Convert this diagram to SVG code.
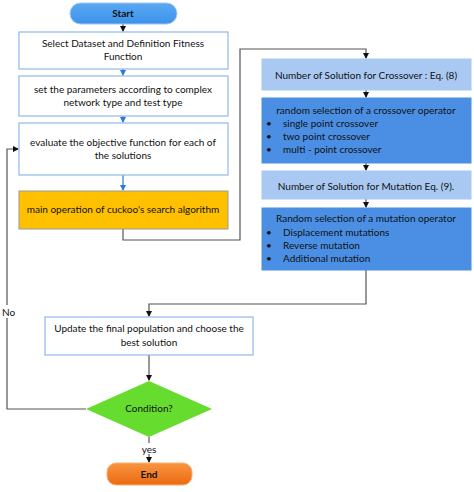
<svg xmlns="http://www.w3.org/2000/svg" width="474" height="492" viewBox="0 0 474 492">
<defs>
<style>
.t{font-family:Lato,"Liberation Sans",sans-serif;font-size:10px;fill:#111;text-anchor:middle}
.l{text-anchor:start}
.wb{fill:#fff;stroke:#8db8ea;stroke-width:1.2}
.lb{fill:#a9c9f2;stroke:#a9c9f2}
.db{fill:#4a8fe4;stroke:#4a8fe4}
.c{fill:none;stroke:#555;stroke-width:1.2}
.cb{fill:none;stroke:#2e78d8;stroke-width:1.2}
</style>
<marker id="ak" markerWidth="6" markerHeight="6" refX="5" refY="3" orient="auto" markerUnits="userSpaceOnUse"><path d="M0,0 L6,3 L0,6 z" fill="#111"/></marker>
<marker id="ab" markerWidth="6" markerHeight="6" refX="5" refY="3" orient="auto" markerUnits="userSpaceOnUse"><path d="M0,0 L6,3 L0,6 z" fill="#2e78d8"/></marker>
<linearGradient id="og" x1="0" y1="0" x2="0" y2="1"><stop offset="0" stop-color="#f89540"/><stop offset="1" stop-color="#ec6a10"/></linearGradient>
<linearGradient id="sg" x1="0" y1="0" x2="0" y2="1"><stop offset="0" stop-color="#5aa8f2"/><stop offset="1" stop-color="#3d92ea"/></linearGradient>
</defs>
<rect width="474" height="492" fill="#fff"/>
<g id="connectors">
<path class="c" d="M123,24 V31" marker-end="url(#ak)"/>
<path class="cb" d="M123,69 V75" marker-end="url(#ab)"/>
<path class="cb" d="M123,116 V122" marker-end="url(#ab)"/>
<path class="cb" d="M123,175 V190" marker-end="url(#ab)"/>
<path class="c" d="M123,229 V240 H240 V49 H366 V58" marker-end="url(#ak)"/>
<path class="c" d="M366,90 V97" marker-end="url(#ak)"/>
<path class="c" d="M366,163 V170" marker-end="url(#ak)"/>
<path class="c" d="M366,199 V207" marker-end="url(#ak)"/>
<path class="c" d="M366,270 V304 H149 V316" marker-end="url(#ak)"/>
<path class="c" d="M149,355 V380" marker-end="url(#ak)"/>
<path class="c" d="M149,437 V462" marker-end="url(#ak)"/>
<path class="c" d="M86,409 H7 V149 H18" marker-end="url(#ak)"/>
<rect x="1" y="305" width="14" height="13" fill="#fff"/>
<text class="t l" x="2" y="316">No</text>
<rect x="138" y="443" width="22" height="11" fill="#fff"/>
<text class="t" x="149" y="453">yes</text>
</g>
<g id="start">
<rect x="70" y="3" width="107" height="21" rx="10.5" fill="url(#sg)" stroke="#9cc8f5" stroke-width="1"/>
<text class="t" x="123" y="17" font-weight="bold" fill="#111">Start</text>
</g>
<g id="select">
<rect class="wb" x="19" y="32" width="209" height="37"/>
<text class="t" x="123" y="47">Select Dataset and Definition Fitness</text>
<text class="t" x="123" y="60">Function</text>
</g>
<g id="params">
<rect class="wb" x="19" y="76" width="209" height="40"/>
<text class="t" x="123" y="93">set the parameters  according to complex</text>
<text class="t" x="123" y="106">network type and test type</text>
</g>
<g id="evaluate">
<rect class="wb" x="19" y="123" width="209" height="52"/>
<text class="t" x="123" y="146">evaluate the objective function for each of</text>
<text class="t" x="123" y="159">the solutions</text>
</g>
<g id="main">
<rect x="19" y="191" width="209" height="38" fill="#ffc000" stroke="#999" stroke-width="1"/>
<text class="t" x="123" y="213">main operation of cuckoo's search algorithm</text>
</g>
<g id="ncross">
<rect class="lb" x="262" y="59" width="209" height="31"/>
<text class="t" x="366" y="79">Number of Solution for Crossover : Eq. (8)</text>
</g>
<g id="crossop">
<rect class="db" x="262" y="98" width="209" height="65"/>
<text class="t" x="366" y="114">random selection of a crossover operator</text>
<text class="t l" x="266" y="127">•</text><text class="t l" x="283" y="127">single point crossover</text>
<text class="t l" x="266" y="140">•</text><text class="t l" x="283" y="140">two point crossover</text>
<text class="t l" x="266" y="153">•</text><text class="t l" x="283" y="153">multi - point crossover</text>
</g>
<g id="nmut">
<rect class="lb" x="262" y="171" width="209" height="28"/>
<text class="t" x="366" y="190">Number of Solution for Mutation Eq. (9).</text>
</g>
<g id="mutop">
<rect class="db" x="262" y="208" width="209" height="62"/>
<text class="t" x="366" y="222">Random selection of a mutation operator</text>
<text class="t l" x="266" y="236">•</text><text class="t l" x="283" y="236">Displacement mutations</text>
<text class="t l" x="266" y="249">•</text><text class="t l" x="283" y="249">Reverse mutation</text>
<text class="t l" x="266" y="262">•</text><text class="t l" x="283" y="262">Additional mutation</text>
</g>
<g id="update">
<rect class="wb" x="45" y="317" width="208" height="38"/>
<text class="t" x="149" y="332">Update the final population and choose the</text>
<text class="t" x="149" y="346">best solution</text>
</g>
<g id="condition">
<polygon points="149,381 212,409 149,437 86,409" fill="#66dd2e"/>
<text class="t" x="149" y="412" font-size="8">Condition?</text>
</g>
<g id="end">
<rect x="107" y="463" width="85" height="22" rx="9" fill="url(#og)" stroke="#f8b07a" stroke-width="1"/>
<text class="t" x="149" y="478" font-weight="bold">End</text>
</g>
</svg>
